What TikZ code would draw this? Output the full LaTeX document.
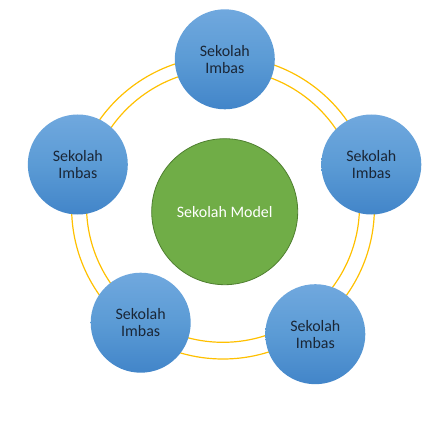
\documentclass[tikz,border=0pt]{standalone}
\usepackage{fontspec}
\setmainfont{Carlito}
\definecolor{satTop}{HTML}{70A8DE}
\definecolor{satMid}{HTML}{5B9BD5}
\definecolor{satBot}{HTML}{4285C9}
\definecolor{satText}{HTML}{1A2636}
\definecolor{hubFill}{HTML}{70AD47}
\definecolor{hubLine}{HTML}{4F7F30}
\definecolor{ringCol}{HTML}{FFC000}
\begin{document}
\begin{tikzpicture}[x=1bp,y=-1bp,
  sat/.style={circle, minimum size=100bp, inner sep=0pt, top color=satTop, bottom color=satBot, middle color=satMid, text=satText, align=center, font=\fontsize{16}{17}\selectfont},
  hub/.style={circle, minimum size=146bp, inner sep=0pt, fill=hubFill, draw=hubLine, line width=0.8bp, text=white, font=\fontsize{16}{17}\selectfont},
  ring/.style={draw=ringCol, line width=1.2bp}]
\useasboundingbox (0,0) rectangle (447,433);
\draw[ring] (223,207.6) circle[radius=151.4];
\draw[ring] (223,205.8) circle[radius=136.5];
\node[hub] (model) at (224.7,211.7) {Sekolah Model};
\node[sat] (top) at (224.8,59.3) {Sekolah\\Imbas};
\node[sat] (right) at (371.3,164.5) {Sekolah\\Imbas};
\node[sat] (left) at (77.8,164.5) {Sekolah\\Imbas};
\node[sat] (bl) at (140.7,322.7) {Sekolah\\Imbas};
\node[sat] (br) at (315.3,334.2) {Sekolah\\Imbas};
\end{tikzpicture}
\end{document}
